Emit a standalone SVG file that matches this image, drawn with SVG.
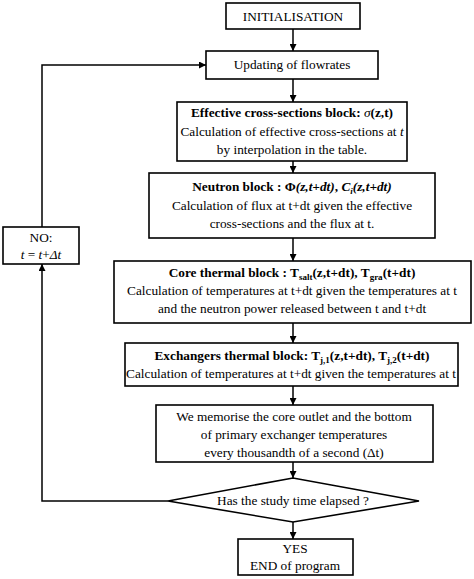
<svg xmlns="http://www.w3.org/2000/svg" width="474" height="579" viewBox="0 0 474 579">
<defs>
<marker id="ah" viewBox="0 0 10 10" refX="10" refY="5" markerWidth="7" markerHeight="7" markerUnits="userSpaceOnUse" orient="auto">
<path d="M0,0 L10,5 L0,10 z" fill="#000"/>
</marker>
<style>
.b{fill:#fff;stroke:#000;stroke-width:1.6}
.t{font-family:"Liberation Serif","Times New Roman","DejaVu Serif",serif;font-size:13.3px;fill:#000;text-anchor:middle}
.bo{font-weight:bold}
.i{font-style:italic}
.s{font-size:9px}
.c{fill:none;stroke:#000;stroke-width:1.5}
</style>
</defs>
<rect width="474" height="579" fill="#fff"/>
<g id="connectors">
<line class="c" x1="293" y1="29" x2="293" y2="51" marker-end="url(#ah)"/>
<line class="c" x1="293" y1="79" x2="293" y2="102" marker-end="url(#ah)"/>
<line class="c" x1="293" y1="161" x2="293" y2="173" marker-end="url(#ah)"/>
<line class="c" x1="293" y1="238" x2="293" y2="261" marker-end="url(#ah)"/>
<line class="c" x1="293" y1="323" x2="293" y2="343" marker-end="url(#ah)"/>
<line class="c" x1="293" y1="386" x2="293" y2="405" marker-end="url(#ah)"/>
<line class="c" x1="293" y1="462" x2="293" y2="478" marker-end="url(#ah)"/>
<line class="c" x1="293" y1="522" x2="293" y2="539" marker-end="url(#ah)"/>
<polyline class="c" points="168,501 42,501 42,264" marker-end="url(#ah)"/>
<polyline class="c" points="42,227 42,65 206,65" marker-end="url(#ah)"/>
</g>
<g id="init">
<rect class="b" x="226" y="3" width="134" height="26"/>
<text class="t" x="293" y="21">INITIALISATION</text>
</g>
<g id="update">
<rect class="b" x="206" y="51" width="172" height="28"/>
<text class="t" x="292" y="69">Updating of flowrates</text>
</g>
<g id="effective">
<rect class="b" x="177" y="102" width="230" height="59"/>
<text class="t" x="292" y="117"><tspan class="bo">Effective cross-sections block: </tspan><tspan class="i">σ</tspan><tspan class="bo">(z,t)</tspan></text>
<text class="t" x="292" y="136">Calculation of effective cross-sections at <tspan class="i">t</tspan></text>
<text class="t" x="292" y="154">by interpolation in the table.</text>
</g>
<g id="neutron">
<rect class="b" x="149" y="173" width="286" height="65"/>
<text class="t bo" x="292" y="191">Neutron block : Φ<tspan class="i">(z,t+dt)</tspan>, <tspan class="i">C</tspan><tspan class="i s" dy="3">i</tspan><tspan class="i" dy="-3">(z,t+dt)</tspan></text>
<text class="t" x="292" y="210">Calculation of flux at t+dt given the effective</text>
<text class="t" x="292" y="228">cross-sections and the flux at t.</text>
</g>
<g id="core">
<rect class="b" x="114" y="261" width="357" height="62"/>
<text class="t bo" x="292" y="277">Core thermal block : T<tspan class="s" dy="3">salt</tspan><tspan dy="-3">(z,t+dt), T</tspan><tspan class="s" dy="3">gra</tspan><tspan dy="-3">(t+dt)</tspan></text>
<text class="t" x="292" y="295">Calculation of temperatures at t+dt given the temperatures at t</text>
<text class="t" x="292" y="313">and the neutron power released between t and t+dt</text>
</g>
<g id="exchangers">
<rect class="b" x="125" y="343" width="333" height="43"/>
<text class="t bo" x="292" y="360">Exchangers thermal block: T<tspan class="s" dy="3">j,1</tspan><tspan dy="-3">(z,t+dt), T</tspan><tspan class="s" dy="3">j,2</tspan><tspan dy="-3">(t+dt)</tspan></text>
<text class="t" x="291" y="378">Calculation of temperatures at t+dt given the temperatures at t</text>
</g>
<g id="memorise">
<rect class="b" x="156" y="405" width="277" height="57"/>
<text class="t" x="294" y="421">We memorise the core outlet and the bottom</text>
<text class="t" x="294" y="439">of primary exchanger temperatures</text>
<text class="t" x="294" y="457">every thousandth of a second (Δt)</text>
</g>
<g id="decision">
<polygon class="b" points="168,501 293,478 419,501 293,522"/>
<text class="t" x="293" y="505">Has the study time elapsed ?</text>
</g>
<g id="end">
<rect class="b" x="238" y="539" width="115" height="36"/>
<text class="t" x="295" y="553">YES</text>
<text class="t" x="295" y="570">END of program</text>
</g>
<g id="no">
<rect class="b" x="3" y="227" width="76" height="37"/>
<text class="t" x="41" y="242">NO:</text>
<text class="t" x="41" y="259"><tspan class="i">t</tspan> = <tspan class="i">t</tspan>+<tspan class="i">Δt</tspan></text>
</g>
</svg>
